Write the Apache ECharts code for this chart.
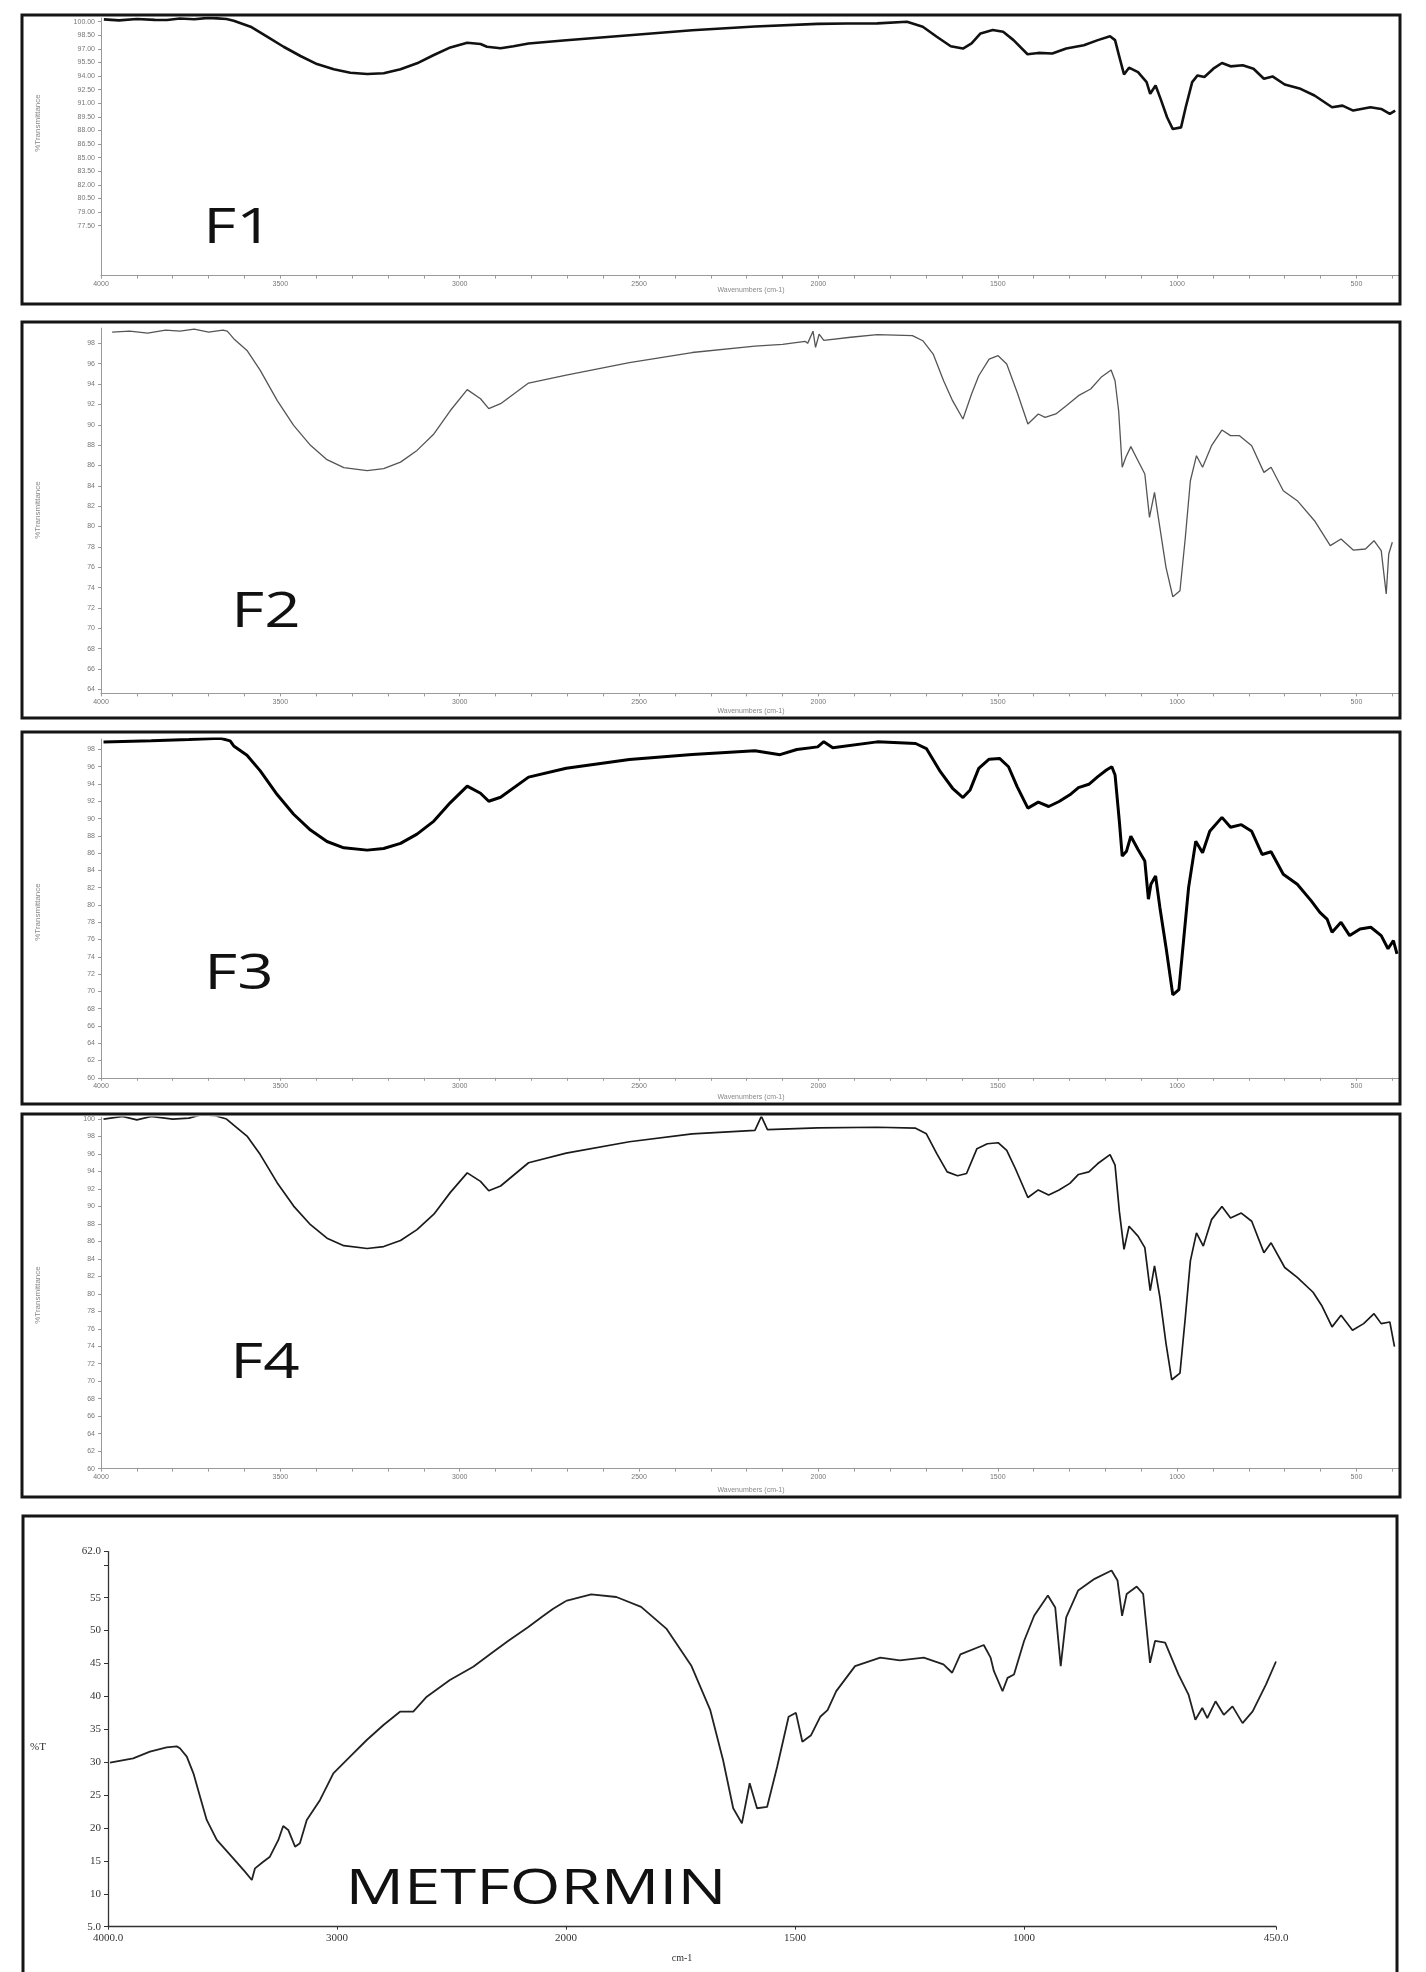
<!DOCTYPE html>
<html><head><meta charset="utf-8">
<script src="https://cdn.jsdelivr.net/npm/echarts@6/dist/echarts.min.js"></script>
<style>html,body{margin:0;padding:0;background:#fff}#c{width:1426px;height:1972px}</style>
</head><body><div id="c"></div>
<script>
// ---------- DATA ----------
const fTickLabels = [4000,3500,3000,2500,2000,1500,1000,500];

const f1Wave = [3992,3950,3900,3850,3816,3780,3740,3700,3676,3650,3630,3583,3537,3491,3444,3398,3351,3305,3258,3212,3165,3119,3072,3026,2979,2942,2924,2886,2850,2808,2703,2527,2352,2177,2002,1920,1836,1753,1709,1670,1631,1597,1573,1548,1514,1485,1456,1417,1387,1348,1309,1260,1221,1187,1173,1161,1148,1134,1109,1085,1075,1060,1046,1028,1012,989,976,958,943,924,899,875,851,817,787,758,734,700,656,617,568,539,509,461,431,407,392];
const f1T = [100.26,100.15,100.3,100.2,100.19,100.35,100.28,100.42,100.37,100.3,100.11,99.45,98.35,97.24,96.22,95.33,94.75,94.37,94.23,94.31,94.75,95.41,96.33,97.17,97.68,97.54,97.24,97.07,97.3,97.6,97.96,98.51,99.06,99.48,99.76,99.8,99.82,100.0,99.45,98.34,97.3,97.04,97.6,98.71,99.08,98.89,97.97,96.41,96.56,96.49,97.04,97.41,97.97,98.41,97.97,96.12,94.19,94.93,94.45,93.34,92.05,92.97,91.49,89.46,88.16,88.35,90.57,93.34,94.08,93.9,94.82,95.45,95.08,95.2,94.82,93.71,93.97,93.08,92.6,91.86,90.57,90.75,90.2,90.57,90.38,89.83,90.2];
const f1YLabels = [100,98.5,97,95.5,94,92.5,91,89.5,88,86.5,85,83.5,82,80.5,79,77.5];

const f2Wave = [3969,3920,3870,3820,3780,3740,3700,3660,3648,3630,3593,3556,3509,3463,3416,3370,3323,3258,3212,3165,3119,3072,3026,2979,2942,2919,2886,2808,2703,2527,2352,2177,2100,2037,2030,2015,2008,1998,1985,1910,1836,1738,1709,1680,1651,1626,1597,1573,1553,1524,1499,1475,1446,1416,1387,1368,1338,1309,1275,1241,1212,1184,1173,1163,1153,1143,1129,1109,1090,1077,1063,1051,1031,1012,992,977,963,946,929,904,875,851,826,792,758,738,704,665,617,573,543,509,475,451,431,417,410,400];
const f2T = [99.1,99.2,99.0,99.3,99.2,99.4,99.1,99.3,99.2,98.46,97.3,95.35,92.4,89.94,87.98,86.57,85.78,85.49,85.69,86.33,87.48,89.1,91.4,93.45,92.56,91.58,92.07,94.1,94.88,96.11,97.1,97.72,97.9,98.2,98.0,99.2,97.6,98.9,98.3,98.6,98.85,98.76,98.26,96.95,94.33,92.37,90.57,93.02,94.82,96.46,96.79,95.97,93.19,90.07,91.06,90.73,91.06,91.88,92.86,93.51,94.66,95.38,94.33,91.38,85.82,86.8,87.85,86.47,85.16,80.9,83.36,80.57,75.99,73.1,73.69,78.94,84.5,86.96,85.82,87.94,89.48,88.93,88.93,87.94,85.32,85.82,83.52,82.54,80.57,78.12,78.77,77.69,77.79,78.61,77.63,73.37,77.3,78.45];
const f2YLabels = [98,96,94,92,90,88,86,84,82,80,78,76,74,72,70,68,66,64];

const f3Wave = [3993,3860,3755,3667,3640,3630,3593,3556,3509,3463,3416,3370,3323,3258,3212,3165,3119,3072,3026,2979,2942,2919,2886,2808,2703,2527,2352,2177,2107,2060,2002,1985,1960,1836,1729,1699,1660,1626,1597,1577,1553,1524,1495,1470,1446,1416,1387,1358,1329,1299,1275,1246,1221,1197,1182,1173,1161,1153,1141,1129,1109,1090,1080,1073,1060,1048,1031,1012,995,982,968,948,929,909,875,851,821,792,763,738,704,665,626,602,582,568,543,519,490,460,431,412,397,387];
const f3T = [98.87,99.02,99.16,99.3,99.0,98.41,97.33,95.52,92.78,90.5,88.67,87.35,86.62,86.35,86.54,87.13,88.2,89.71,91.85,93.75,92.93,92.01,92.47,94.8,95.82,96.84,97.42,97.85,97.4,98.0,98.3,98.9,98.2,98.88,98.69,98.11,95.43,93.51,92.44,93.32,95.81,96.88,96.96,96.0,93.7,91.21,91.9,91.4,91.98,92.75,93.59,93.97,94.85,95.62,96.0,95.05,89.68,85.66,86.23,87.96,86.42,85.08,80.67,82.4,83.36,79.72,75.12,69.6,70.2,75.88,82.01,87.38,86.04,88.53,90.14,88.99,89.3,88.53,85.85,86.16,83.55,82.4,80.48,79.14,78.37,76.84,77.99,76.46,77.23,77.42,76.46,74.93,75.88,74.35];
const f3YLabels = [98,96,94,92,90,88,86,84,82,80,78,76,74,72,70,68,66,64,62,60];

const f4Wave = [3993,3940,3900,3860,3800,3755,3720,3684,3650,3630,3593,3556,3509,3463,3416,3370,3323,3258,3212,3165,3119,3072,3026,2979,2942,2919,2886,2808,2703,2527,2352,2177,2159,2142,2002,1836,1729,1699,1670,1641,1612,1587,1558,1529,1499,1475,1451,1416,1387,1358,1329,1299,1275,1246,1221,1187,1173,1161,1148,1134,1109,1090,1075,1063,1048,1031,1015,992,977,963,946,927,904,875,851,821,792,758,738,700,665,621,597,568,543,511,480,451,431,407,394];
const f4T = [100,100.3,99.9,100.3,100.0,100.1,100.5,100.4,100.0,99.3,98.05,95.93,92.72,90.04,87.91,86.37,85.51,85.19,85.41,86.1,87.35,89.11,91.61,93.84,92.87,91.8,92.34,95.0,96.1,97.4,98.3,98.7,100.3,98.8,99.0,99.06,98.95,98.31,96.04,93.96,93.51,93.77,96.61,97.17,97.29,96.42,94.34,91.02,91.89,91.32,91.89,92.64,93.66,93.96,94.91,95.93,94.72,89.43,85.09,87.73,86.6,85.28,80.37,83.2,79.62,74.33,70.17,70.93,77.35,83.77,86.98,85.47,88.49,90.0,88.68,89.24,88.3,84.71,85.84,83.01,81.88,80.18,78.67,76.22,77.54,75.84,76.59,77.73,76.59,76.78,73.95];
const f4YLabels = [100,98,96,94,92,90,88,86,84,82,80,78,76,74,72,70,68,66,64,62,60];

const metWave = [3991,3890,3817,3744,3700,3686,3656,3627,3598,3569,3525,3453,3402,3372,3358,3322,3293,3256,3235,3213,3183,3162,3132,3074,3016,2943,2870,2797,2725,2667,2608,2507,2405,2317,2250,2166,2100,2056,2000,1945,1890,1836,1781,1726,1685,1657,1635,1616,1599,1583,1561,1539,1514,1498,1484,1465,1445,1429,1410,1369,1314,1271,1219,1176,1157,1139,1088,1073,1066,1047,1036,1022,1000,978,948,932,920,908,882,846,809,796,786,776,754,740,725,714,692,663,641,626,611,600,582,564,545,523,501,472,450];
const metT = [29.92,30.59,31.6,32.26,32.4,32.11,30.84,28.31,24.76,21.22,18.18,15.39,13.36,12.1,13.87,14.88,15.64,18.18,20.3,19.7,17.16,17.67,21.22,24.26,28.31,30.84,33.37,35.65,37.67,37.67,39.95,42.49,44.51,46.79,48.5,50.5,52.2,53.3,54.5,55.5,55.1,53.6,50.3,44.6,37.9,30.3,23.0,20.7,26.8,23.0,23.2,29.3,36.9,37.5,33.1,34.1,36.9,37.9,40.8,44.6,45.9,45.47,45.88,44.86,43.59,46.38,47.81,45.88,43.86,40.78,42.81,43.33,48.42,52.25,55.32,53.52,44.6,52.0,56.08,57.86,59.13,57.61,52.25,55.56,56.69,55.56,45.1,48.42,48.18,43.33,40.27,36.44,38.23,36.7,39.25,37.2,38.48,35.93,37.72,41.79,45.3];
const metYLabels = [62,55,50,45,40,35,30,25,20,15,10,5];
const metXLabelsLeft = [4000,3000,2000];
const metXLabelsRight = [1500,1000,450];

// ---------- LAYOUT ----------
const zip = (a,b) => a.map((v,i)=>[v,b[i]]);
const fTicks = []; for (let w=4000; w>=400; w-=100) fTicks.push(w);

const fPanels = [
  {wave:f1Wave, t:f1T, yl:f1YLabels, min:72, max:100.4, top:18.1, height:257.5, fmt:v=>v.toFixed(2), color:'#111', width:2.6, label:'F1', lx:238, ly:229, box:[22,15,1378,289], wn:290, yt:123},
  {wave:f2Wave, t:f2T, yl:f2YLabels, min:63.6, max:99.5, top:328.1, height:365.3, fmt:v=>String(v), color:'#555', width:1.3, label:'F2', lx:266, ly:613, box:[22,322,1378,396], wn:711, yt:510},
  {wave:f3Wave, t:f3T, yl:f3YLabels, min:60, max:99.2, top:739.1, height:338.7, fmt:v=>String(v), color:'#000', width:3, label:'F3', lx:239, ly:975, box:[22,732,1378,372], wn:1097, yt:912},
  {wave:f4Wave, t:f4T, yl:f4YLabels, min:60, max:100.2, top:1117.3, height:351.3, fmt:v=>String(v), color:'#1a1a1a', width:1.7, label:'F4', lx:265, ly:1364, box:[22,1114,1378,383], wn:1490, yt:1295}
];

const grids = [], xAxes = [], yAxes = [], series = [], gfx = [];
const sans = 'Liberation Sans, DejaVu Sans, sans-serif';
const serif = 'Liberation Serif, DejaVu Serif, serif';
const bigFont = 'Open Sans, sans-serif';

fPanels.forEach((p,i)=>{
  grids.push({left:101, top:p.top, width:1298.5, height:p.height, containLabel:false, outerBoundsMode:'none'});
  xAxes.push({gridIndex:i, type:'value', inverse:true, min:380, max:4000,
    axisLine:{show:true, onZero:false, lineStyle:{color:'#9a9a9a', width:1}},
    axisTick:{show:true, customValues:fTicks, length:3, lineStyle:{color:'#9a9a9a'}},
    axisLabel:{show:true, customValues:fTickLabels, fontSize:7, color:'#777', margin:5, fontFamily:sans, formatter:v=>String(v)},
    splitLine:{show:false}});
  yAxes.push({gridIndex:i, type:'value', min:p.min, max:p.max,
    axisLine:{show:true, onZero:false, lineStyle:{color:'#9a9a9a', width:1}},
    axisTick:{show:true, customValues:p.yl, length:3, lineStyle:{color:'#9a9a9a'}},
    axisLabel:{show:true, customValues:p.yl, fontSize:7, color:'#777', margin:6, fontFamily:sans, formatter:p.fmt},
    splitLine:{show:false}});
  series.push({type:'line', xAxisIndex:i, yAxisIndex:i, data:zip(p.wave,p.t), showSymbol:false, symbol:'none', silent:true,
    lineStyle:{color:p.color, width:p.width}, z:3});
  gfx.push({type:'rect', shape:{x:p.box[0], y:p.box[1], width:p.box[2], height:p.box[3]}, style:{fill:'none', stroke:'#151515', lineWidth:3}, z:10});
  gfx.push({type:'text', x:p.lx, y:p.ly, scaleX:1.3, style:{text:p.label, fontSize:49, fontFamily:bigFont, fill:'#111', align:'center', verticalAlign:'middle', textAlign:'center', textVerticalAlign:'middle'}, z:11});
  gfx.push({type:'text', x:751, y:p.wn, style:{text:'Wavenumbers (cm-1)', fontSize:7, fontFamily:sans, fill:'#888', align:'center', verticalAlign:'middle', textAlign:'center', textVerticalAlign:'middle'}, z:11});
  gfx.push({type:'text', x:38, y:p.yt, rotation:Math.PI/2, style:{text:'%Transmittance', fontSize:8, fontFamily:sans, fill:'#888', align:'center', verticalAlign:'middle', textAlign:'center', textVerticalAlign:'middle'}, z:11});
});

// METFORMIN: two grids, scale doubles below 2000 cm-1
const metTop = 1551.6, metH = 375.1;
grids.push({left:108, top:metTop, width:458, height:metH, containLabel:false, outerBoundsMode:'none'});
grids.push({left:566, top:metTop, width:710, height:metH, containLabel:false, outerBoundsMode:'none'});
const metXFmt = v => (v===4000 ? '4000.0' : v===450 ? '450.0' : String(v));
xAxes.push({gridIndex:4, type:'value', inverse:true, min:2000, max:4000,
  axisLine:{show:true, onZero:false, lineStyle:{color:'#333', width:1.3}},
  axisTick:{show:true, customValues:metXLabelsLeft, length:3, lineStyle:{color:'#333'}},
  axisLabel:{show:true, customValues:[4000,3000], fontSize:11, color:'#333', fontFamily:serif, margin:6, formatter:metXFmt},
  splitLine:{show:false}});
xAxes.push({gridIndex:5, type:'value', inverse:true, min:450, max:2000,
  axisLine:{show:true, onZero:false, lineStyle:{color:'#333', width:1.3}},
  axisTick:{show:true, customValues:metXLabelsRight, length:3, lineStyle:{color:'#333'}},
  axisLabel:{show:true, customValues:[2000].concat(metXLabelsRight), fontSize:11, color:'#333', fontFamily:serif, margin:6, formatter:metXFmt},
  splitLine:{show:false}});
yAxes.push({gridIndex:4, type:'value', min:5, max:62,
  axisLine:{show:true, onZero:false, lineStyle:{color:'#333', width:1.3}},
  axisTick:{show:true, customValues:metYLabels.concat([60]), length:4, lineStyle:{color:'#333'}},
  axisLabel:{show:true, customValues:metYLabels, fontSize:11, color:'#333', fontFamily:serif, margin:7,
    formatter:v=>(v===62?'62.0':v===5?'5.0':String(v))},
  splitLine:{show:false}});
yAxes.push({gridIndex:5, type:'value', min:5, max:62, show:false});
const metAll = zip(metWave, metT);
series.push({type:'line', xAxisIndex:4, yAxisIndex:4, data:metAll.filter(d=>d[0]>=2000), showSymbol:false, symbol:'none', silent:true, lineStyle:{color:'#222', width:1.8}, z:3});
series.push({type:'line', xAxisIndex:5, yAxisIndex:5, data:metAll.filter(d=>d[0]<=2000), showSymbol:false, symbol:'none', silent:true, lineStyle:{color:'#222', width:1.8}, z:3});

gfx.push({type:'rect', shape:{x:23, y:1516, width:1374, height:480}, style:{fill:'none', stroke:'#151515', lineWidth:3}, z:10});
gfx.push({type:'text', x:536, y:1890, scaleX:1.33, style:{text:'METFORMIN', fontSize:49, fontFamily:bigFont, fill:'#111', align:'center', verticalAlign:'middle', textAlign:'center', textVerticalAlign:'middle'}, z:11});
gfx.push({type:'text', x:38, y:1747, style:{text:'%T', fontSize:11, fontFamily:serif, fill:'#333', align:'center', verticalAlign:'middle', textAlign:'center', textVerticalAlign:'middle'}, z:11});
gfx.push({type:'text', x:682, y:1958, style:{text:'cm-1', fontSize:10, fontFamily:serif, fill:'#333', align:'center', verticalAlign:'middle', textAlign:'center', textVerticalAlign:'middle'}, z:11});

const chart = echarts.init(document.getElementById('c'), null, {renderer:'canvas', width:1426, height:1972});
chart.setOption({
  animation:false,
  backgroundColor:'#ffffff',
  grid:grids, xAxis:xAxes, yAxis:yAxes, series:series,
  graphic:{elements:gfx}
});
</script>
</body></html>
